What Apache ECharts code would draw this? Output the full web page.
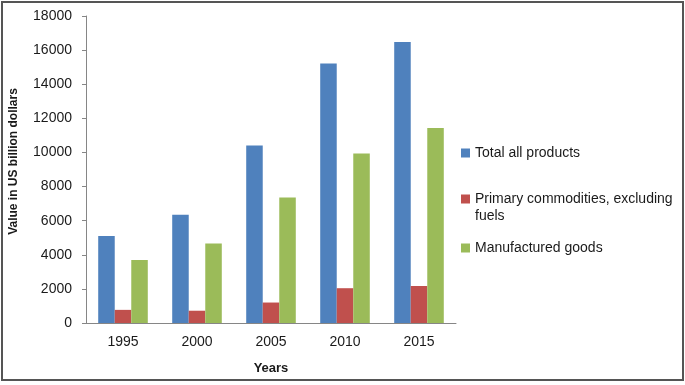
<!DOCTYPE html>
<html>
<head>
<meta charset="utf-8">
<script src="https://cdn.jsdelivr.net/npm/echarts@6/dist/echarts.min.js"></script>
<style>
  html, body { margin: 0; padding: 0; background: #fff; }
  #chart { width: 685px; height: 385px; }
</style>
</head>
<body>
<div id="chart"></div>
<script>
const years = ['1995', '2000', '2005', '2010', '2015']
const totalAll = [5100, 6350, 10400, 15220, 16480]
const primary = [770, 720, 1200, 2040, 2170]
const manufactured = [3690, 4660, 7360, 9940, 11430]
const yTicks = [0, 2000, 4000, 6000, 8000, 10000, 12000, 14000, 16000, 18000]

const colors = ['#4F81BD', '#C0504D', '#9BBB59']
const font = 'Liberation Sans'
const axisGrey = '#868686'

const chart = echarts.init(document.getElementById('chart'))

function legendFor(name, top, fmt) {
  return {
    data: [name],
    orient: 'vertical',
    left: 456,
    top: top,
    itemWidth: 9,
    itemHeight: 9,
    icon: 'rect',
    formatter: fmt || '{name}',
    textStyle: { fontFamily: font, fontSize: 14, color: '#1a1a1a' }
  }
}

chart.setOption({
  animation: false,
  color: colors,
  grid: { left: 83, right: 229, top: 16, bottom: 62 },
  legend: [
    legendFor('Total all products', 141),
    legendFor('Primary commodities, excluding fuels', 187, 'Primary commodities, excluding'),
    legendFor('Manufactured goods', 236)
  ],
  graphic: [
    {
      type: 'text',
      left: 475,
      top: 209,
      style: { text: 'fuels', fontFamily: font, fontSize: 14, fill: '#1a1a1a' }
    },
    {
      type: 'rect',
      shape: { x: 2, y: 2, width: 681, height: 378 },
      style: { fill: 'none', stroke: '#555', lineWidth: 2 },
      silent: true
    }
  ],
  xAxis: {
    type: 'category',
    data: years,
    name: 'Years',
    nameLocation: 'middle',
    nameGap: 39,
    nameTextStyle: { fontFamily: font, fontSize: 13, fontWeight: 'bold', color: '#1a1a1a' },
    axisLine: { lineStyle: { color: axisGrey } },
    axisTick: { length: 4, lineStyle: { color: axisGrey } },
    axisLabel: { margin: 12, fontFamily: font, fontSize: 14, color: '#1a1a1a' }
  },
  yAxis: {
    type: 'value',
    min: yTicks[0],
    max: yTicks[yTicks.length - 1],
    interval: yTicks[1] - yTicks[0],
    name: 'Value in US billion dollars',
    nameLocation: 'middle',
    nameGap: 66,
    nameTextStyle: { fontFamily: font, fontSize: 12, fontWeight: 'bold', color: '#1a1a1a', padding: [0, 0, 0, 16] },
    splitLine: { show: false },
    axisLine: { show: true, lineStyle: { color: axisGrey } },
    axisTick: { show: true, length: 4, lineStyle: { color: axisGrey } },
    axisLabel: { margin: 14, fontFamily: font, fontSize: 14, color: '#1a1a1a', formatter: v => String(v) }
  },
  series: [
    { name: 'Total all products', type: 'bar', data: totalAll, barGap: '0%', barCategoryGap: '33%' },
    { name: 'Primary commodities, excluding fuels', type: 'bar', data: primary },
    { name: 'Manufactured goods', type: 'bar', data: manufactured }
  ]
})
</script>
</body>
</html>
